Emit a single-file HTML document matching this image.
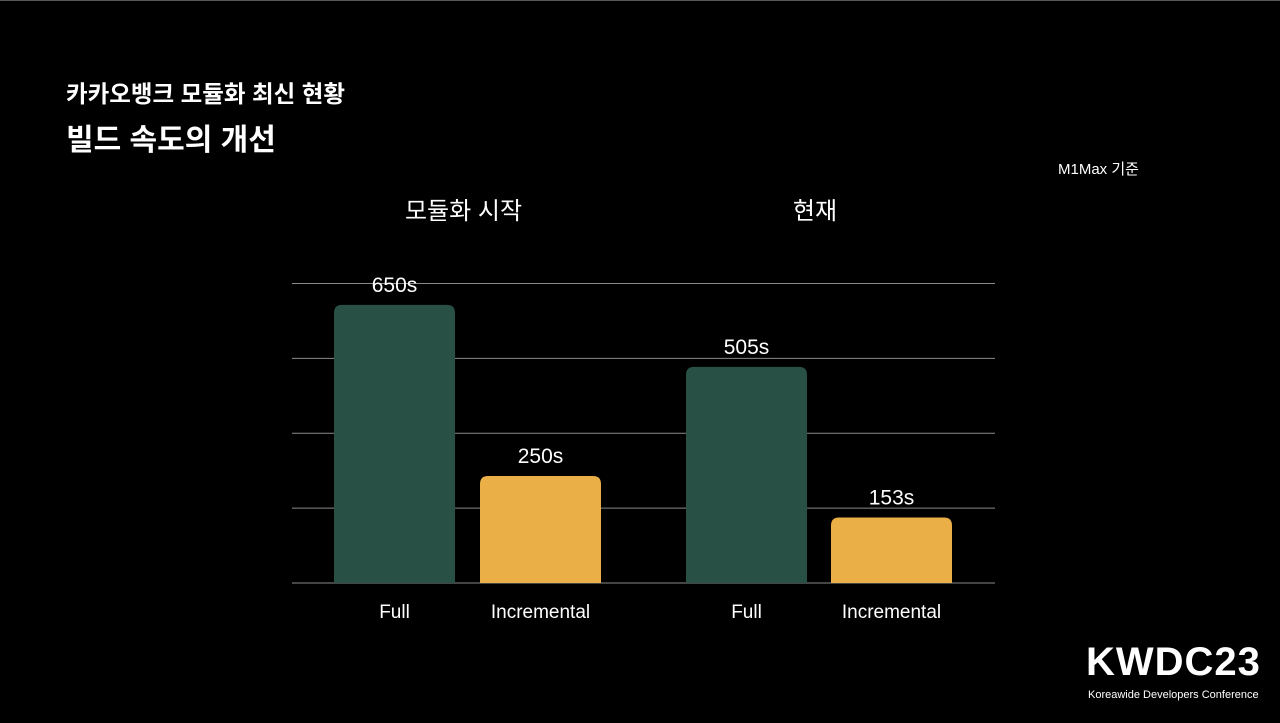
<!DOCTYPE html>
<html><head><meta charset="utf-8"><style>
html,body{margin:0;padding:0;background:#000;}
#root{position:relative;width:1280px;height:723px;background:#000;overflow:hidden;border-top:1px solid #555;box-sizing:border-box;font-family:"Liberation Sans","Noto Sans CJK KR",sans-serif;color:#fff;}
.t{position:absolute;white-space:nowrap;}
</style></head><body>
<div id="root">
<div class="t" style="left:66px;top:74px;font-size:23.5px;font-weight:bold;">카카오뱅크 모듈화 최신 현황</div>
<div class="t" style="left:66px;top:114px;font-size:30px;font-weight:bold;">빌드 속도의 개선</div>
<div class="t" style="left:1058px;top:157px;font-size:15px;">M1Max 기준</div>
<svg id="chart" width="1280" height="723" style="position:absolute;left:0;top:0;font-family:'Liberation Sans','Noto Sans CJK KR',sans-serif;"></svg>
<div class="t" style="left:1086px;top:639px;font-size:40px;font-weight:bold;letter-spacing:1px;">KWDC23</div>
<div class="t" style="left:1088px;top:688px;font-size:11px;">Koreawide Developers Conference</div>
</div>
<script>
const groups = ["모듈화 시작", "현재"];
const categories = ["Full", "Incremental", "Full", "Incremental"];
const values = [650, 250, 505, 153];
const ticks = [0, 175, 350, 525, 700];
const colors = ["#285045", "#ebaf47"];
const svg = document.getElementById('chart');
const NS = 'http://www.w3.org/2000/svg';
const x0 = 292, x1 = 995, yBase = 582, yTop = 282.5, maxV = 700;
const y = v => yBase - (v / maxV) * (yBase - yTop);
const barX = [334, 480, 686, 831];
const bw = 121;
function mk(tag, attrs, txt) { const e = document.createElementNS(NS, tag); for (const k in attrs) e.setAttribute(k, attrs[k]); if (txt !== undefined) e.textContent = txt; svg.appendChild(e); return e; }
ticks.forEach((t, i) => {
  const l = mk('line', {x1: x0, x2: x1, y1: y(t), y2: y(t), stroke: '#8a8a8a', 'stroke-width': 1});
  
  
});
values.forEach((v, i) => {
  const top = y(v), r = 8;
  const d = `M${barX[i]},${yBase} V${top + r} Q${barX[i]},${top} ${barX[i] + r},${top} H${barX[i] + bw - r} Q${barX[i] + bw},${top} ${barX[i] + bw},${top + r} V${yBase} Z`;
  const b = mk('path', {d: d, fill: colors[i % 2]});
  
  
  const vl = mk('text', {x: barX[i] + bw / 2, y: top - 13, fill: '#fff', 'font-size': 21, 'text-anchor': 'middle'}, v + 's');
  
  
  const cl = mk('text', {x: barX[i] + bw / 2, y: 617, fill: '#fff', 'font-size': 19, 'text-anchor': 'middle'}, categories[i]);
  
  
});
groups.forEach((g, gi) => {
  const cx = (barX[gi * 2] + barX[gi * 2 + 1] + bw) / 2 - 4;
  const gl = mk('text', {x: cx, y: 218, fill: '#fff', 'font-size': 24, 'text-anchor': 'middle'}, g);
  
  
});
</script>
</body></html>
